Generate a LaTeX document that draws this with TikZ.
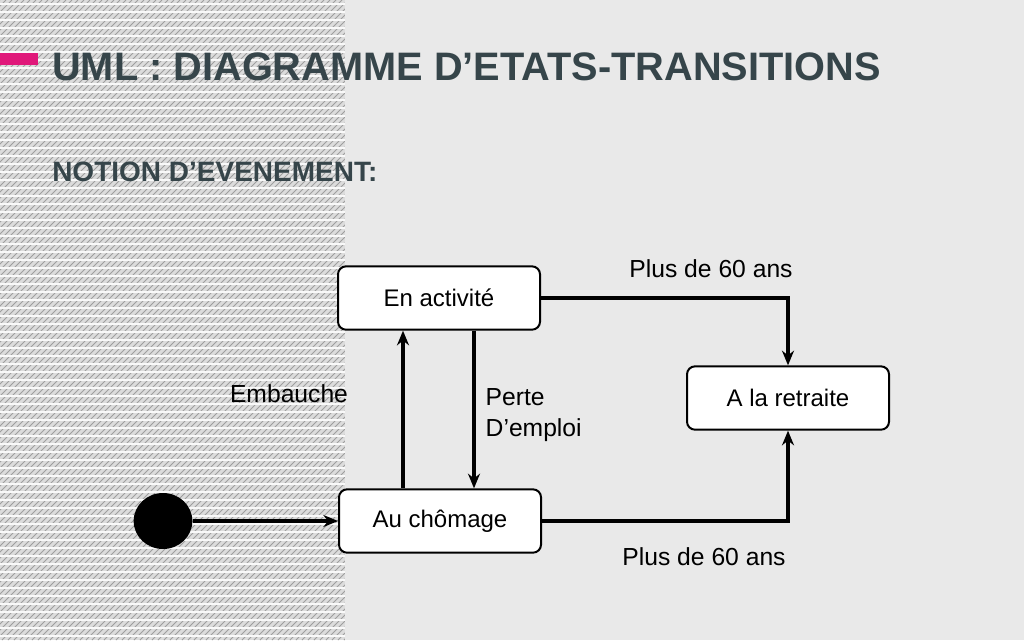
\documentclass[tikz,border=0pt]{standalone}
\usepackage{fontspec}
\setmainfont{Liberation Sans}
\usetikzlibrary{patterns,arrows.meta,shapes.geometric}
\definecolor{bgc}{HTML}{E9E9E9}
\definecolor{hatchbg}{HTML}{DCDCDC}
\definecolor{titlec}{HTML}{36454A}
\definecolor{pinkc}{HTML}{E0187A}
\begin{document}
\begin{tikzpicture}[x=0.75pt,y=-0.75pt,
  state/.style={draw,line width=1.5pt,rounded corners=6pt,minimum width=151.5pt,minimum height=47.5pt,font=\fontsize{18}{20}\selectfont,fill=white,inner sep=0pt},
  conn/.style={line width=2.3pt,-{Stealth[length=11pt,width=9pt]}},
  lbl/.style={font=\fontsize{18.5}{23.5}\selectfont}]
\useasboundingbox (0,0) rectangle (1024,640);
\fill[bgc] (0,0) rectangle (1024,640);
\fill[hatchbg] (0,0) rectangle (345,640);
\foreach \i in {-640,-634,...,345} {\draw[gray!75,line width=0.7pt] (\i,640) -- (\i+640,0);}
\fill[bgc] (345,0) rectangle (1024,640);
\foreach \j in {4,12,...,640} {\draw[white!95!gray,line width=1pt] (0,\j) -- (345,\j);}
\fill[pinkc] (0,53) rectangle (38,65);
\node[anchor=west,text=titlec,font=\fontsize{29.8}{32}\selectfont\bfseries,inner sep=0pt] (title) at (52,67) {UML : DIAGRAMME D’ETATS-TRANSITIONS};
\node[anchor=west,text=titlec,font=\fontsize{21}{24}\selectfont\bfseries,inner sep=0pt] (sub) at (52,172) {NOTION D’EVENEMENT:};
\node[state] (act) at (439,298) {En activité};
\node[state] (ret) at (788,398) {A la retraite};
\node[state] (cho) at (440,521) {Au chômage};
\node[fill=black,ellipse,minimum width=44pt,minimum height=42pt,inner sep=0pt] (init) at (163,521) {};
\draw[conn] (init.east) -- (cho.west);
\draw[conn] (act.east) -| (ret.north);
\draw[conn] (cho.east) -| (ret.south);
\draw[conn] (cho.north -| 403,0) -- (act.south -| 403,0);
\draw[conn] (act.south -| 474,0) -- (cho.north -| 474,0);
\node[lbl] (l1) at (711,269) {Plus de 60 ans};
\node[lbl] (l2) at (704,557) {Plus de 60 ans};
\node[lbl] (l3) at (289,394) {Embauche};
\node[lbl,anchor=west,align=left] (l4) at (481,415) {Perte\\D’emploi};
\end{tikzpicture}
\end{document}
